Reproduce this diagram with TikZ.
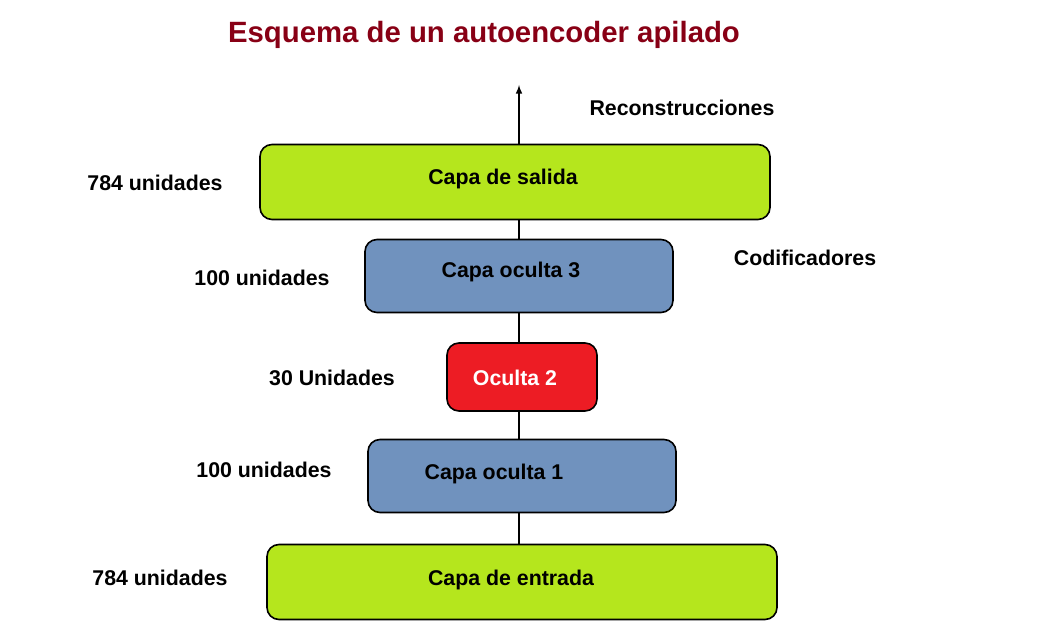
\documentclass[tikz,border=0pt]{standalone}
\usepackage{fontspec}
\setmainfont{Liberation Sans}
\begin{document}
\begin{tikzpicture}[x=0.75pt,y=-0.75pt,
  box/.style={draw=black,line width=1.2pt,rounded corners=9pt},
  lbl/.style={font=\fontsize{16}{18}\selectfont\bfseries}]
\useasboundingbox (0,0) rectangle (1042,630);
\definecolor{lime}{HTML}{B5E61D}
\definecolor{steel}{HTML}{7092BE}
\definecolor{rojo}{HTML}{ED1C24}
\definecolor{tit}{HTML}{880015}
\coordinate (top) at (519,85);
\node[box,fill=lime,minimum width=510*0.75pt,minimum height=75*0.75pt] (sal) at (515,182) {};
\node[box,fill=steel,minimum width=308*0.75pt,minimum height=73*0.75pt] (o3) at (519,276) {};
\node[box,fill=rojo,minimum width=150*0.75pt,minimum height=68*0.75pt] (o2) at (522,377) {};
\node[box,fill=steel,minimum width=308*0.75pt,minimum height=73*0.75pt] (o1) at (522,476) {};
\node[box,fill=lime,minimum width=510*0.75pt,minimum height=75*0.75pt] (ent) at (522,582) {};
\draw[line width=1.2pt] (ent.north -| top) -- (o1.south -| top);
\draw[line width=1.2pt] (o1.north -| top) -- (o2.south -| top);
\draw[line width=1.2pt] (o2.north -| top) -- (o3.south -| top);
\draw[line width=1.2pt] (o3.north -| top) -- (sal.south -| top);
\draw[line width=1.2pt,-latex] (sal.north -| top) -- (top);
\node[lbl] (t1) at (503,179) {Capa de salida};
\node[lbl] (t2) at (511,272) {Capa oculta 3};
\node[lbl,text=white] (t3) at (515,378) {Oculta 2};
\node[lbl] (t4) at (494,474) {Capa oculta 1};
\node[lbl] (t5) at (511,580) {Capa de entrada};
\node[lbl] (l1) at (155,183) {784 unidades};
\node[lbl] (l2) at (262,278) {100 unidades};
\node[lbl] (l3) at (332,378) {30 Unidades};
\node[lbl] (l4) at (264,470) {100 unidades};
\node[lbl] (l5) at (160,578) {784 unidades};
\node[lbl] (rec) at (682,108) {Reconstrucciones};
\node[lbl] (cod) at (805,258) {Codificadores};
\node[font=\fontsize{22}{24}\selectfont\bfseries,text=tit] (title) at (484,35) {Esquema de un autoencoder apilado};
\end{tikzpicture}
\end{document}
